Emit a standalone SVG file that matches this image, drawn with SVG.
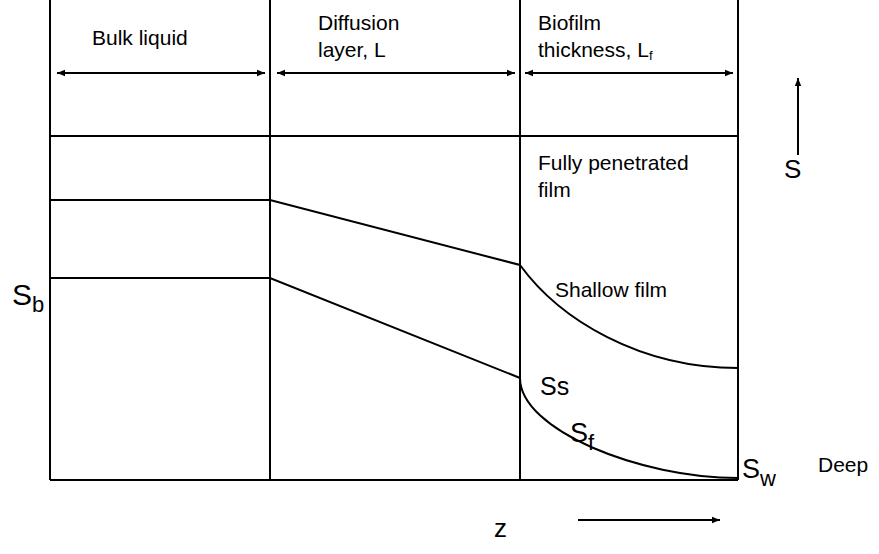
<svg xmlns="http://www.w3.org/2000/svg" width="879" height="554" viewBox="0 0 879 554">
<style>
.l{stroke:#000;stroke-width:2;fill:none}
.t{font-family:"Liberation Sans",Arial,sans-serif;font-size:21px;fill:#000}
</style>
<defs>
<marker id="a" viewBox="0 0 10 10" refX="10" refY="5" markerWidth="8" markerHeight="8" orient="auto-start-reverse" markerUnits="userSpaceOnUse"><path d="M0,1 L10,5 L0,9 z" fill="#000"/></marker>
</defs>
<rect width="879" height="554" fill="#fff"/>
<g id="frame">
<path class="l" d="M50,0 V480 M270,0 V480 M520,0 V480 M738,0 V480 M50,136 H738 M50,480 H738"/>
</g>
<g id="connectors">
<line class="l" x1="57" y1="73" x2="265" y2="73" marker-start="url(#a)" marker-end="url(#a)"/>
<line class="l" x1="277" y1="73" x2="515" y2="73" marker-start="url(#a)" marker-end="url(#a)"/>
<line class="l" x1="525" y1="73" x2="733" y2="73" marker-start="url(#a)" marker-end="url(#a)"/>
<line class="l" x1="798" y1="155" x2="798" y2="78" marker-end="url(#a)"/>
<line class="l" x1="578" y1="520" x2="720" y2="520" marker-end="url(#a)"/>
</g>
<g id="profiles">
<path class="l" d="M50,200 H270 L520,265 C560,320 640,368 738,368"/>
<path class="l" d="M50,278 H270 L520,378 C520,430 640,478 738,478"/>
</g>
<g id="labels">
<text class="t" x="92" y="45">Bulk liquid</text>
<text class="t" x="318" y="30">Diffusion</text>
<text class="t" x="318" y="57">layer, L</text>
<text class="t" x="538" y="30">Biofilm</text>
<text class="t" x="538" y="57">thickness, L<tspan style="font-size:13px" dy="3">f</tspan></text>
<text class="t" x="538" y="170">Fully penetrated</text>
<text class="t" x="538" y="197">film</text>
<text class="t" x="555" y="297">Shallow film</text>
<text class="t" x="540" y="395" style="font-size:25px">Ss</text>
<text class="t" x="570" y="442" style="font-size:27px">S<tspan style="font-size:22px" dy="8">f</tspan></text>
<text class="t" x="742" y="478" style="font-size:27px">S<tspan style="font-size:22px" dy="8">w</tspan></text>
<text class="t" x="818" y="472">Deep</text>
<text class="t" x="12" y="305" style="font-size:30px">S<tspan style="font-size:22px" dy="7">b</tspan></text>
<text class="t" x="784" y="178" style="font-size:26px">S</text>
<text class="t" x="494" y="537" style="font-size:26px">z</text>
</g>
</svg>
